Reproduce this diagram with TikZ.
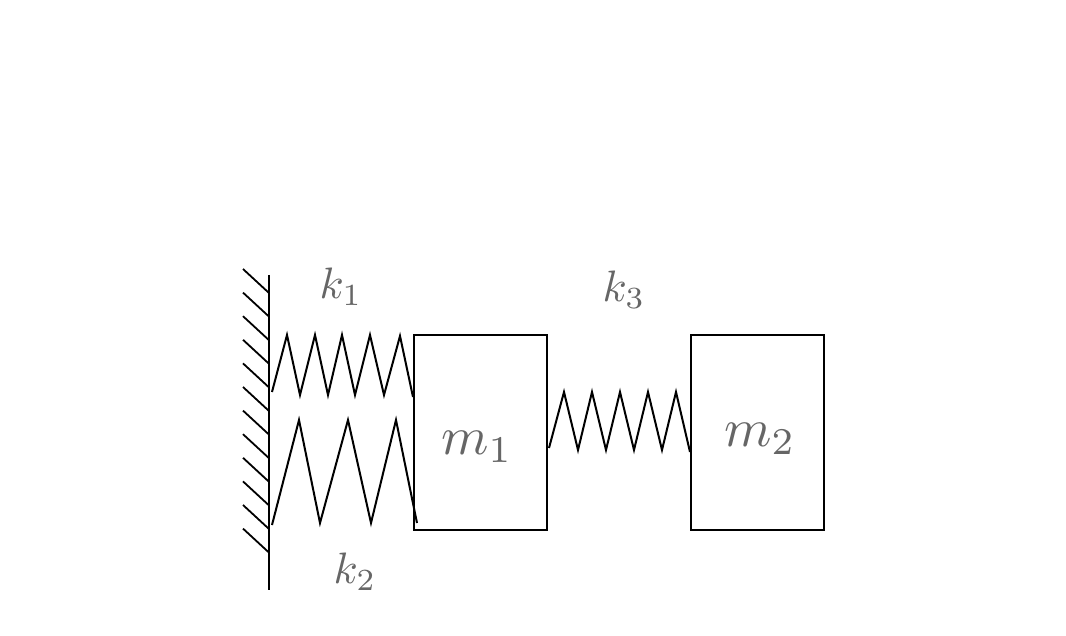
\documentclass[tikz,border=0pt]{standalone}
\begin{document}
\begin{tikzpicture}[x=1pt,y=-1pt,line width=2pt,
  lbl/.style={text=black!60,scale=4.4,inner sep=0},
  mlbl/.style={text=black!60,scale=5.4,inner sep=0},
  massbox/.style={draw,minimum width=133pt,minimum height=195pt,inner sep=0,line width=2pt}]
\useasboundingbox (0,0) rectangle (1066,636);
\coordinate (wt) at (269,275); \coordinate (wb) at (269,590);
\draw (wt) -- (wb);
\foreach \i in {0,...,11}{\draw[line width=1.8pt] (269,{293+23.6*\i}) -- ++(-26,-24);}
\node[massbox,anchor=north west] (m1) at (413,334) {};
\node[massbox,anchor=north west] (m2) at (690,334) {};
\node[mlbl] at (477,447) {$m_1$};
\node[mlbl] at (760,439) {$m_2$};
\node[lbl] at (341,287) {$k_1$};
\node[lbl] at (624,290) {$k_3$};
\node[lbl] at (355,572) {$k_2$};
\draw[line join=miter] (272,392) -- (287,335) -- (300,395) -- (315,335) -- (328,395) -- (342,335) -- (355,395) -- (370,335) -- (384,395) -- (400,336) -- (413,397);
\draw (272,525) -- (299,420) -- (320,523) -- (348,420) -- (371,523) -- (396,420) -- (417,523);
\draw (549,448) -- (564,392) -- (578,450) -- (592,392) -- (606,450) -- (620,392) -- (634,450) -- (648,392) -- (662,450) -- (676,392) -- (690,452);
\end{tikzpicture}
\end{document}
